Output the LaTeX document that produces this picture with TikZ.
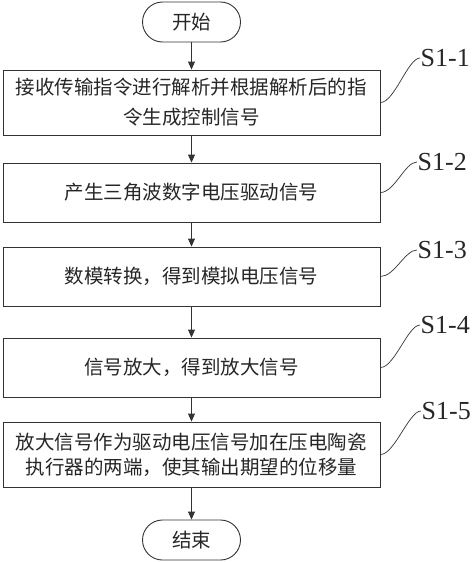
\documentclass[tikz,border=0pt]{standalone}
\usepackage{fontspec}
\newfontfamily\cjk{Noto Sans CJK SC}
\newfontfamily\labfont{Liberation Serif}
\usetikzlibrary{positioning, arrows.meta}

\begin{document}
\begin{tikzpicture}[x=1pt, y=-1pt,
    stepbox/.style={draw=black!80, line width=0.9pt, rectangle, minimum width=377pt, minimum height=59pt, text width=362pt, align=center, inner sep=0pt, text=black!85, font=\cjk\fontsize{19.5}{27}\selectfont},
    term/.style={draw=black!80, line width=0.9pt, rounded corners=20pt, minimum width=98pt, minimum height=40pt, text=black!85, font=\cjk\fontsize{19.5}{24}\selectfont},
    steplabel/.style={anchor=west, inner sep=0.5pt, text=black!85, font=\labfont\fontsize{26}{30}\selectfont},
    flow/.style={draw=black!80, line width=0.9pt, -{Triangle[length=8pt,width=7pt]}},
    lead/.style={draw=black!80, line width=0.7pt}]
\useasboundingbox (0,0) rectangle (474,562);
\node[term] (start) at (191.5,22) {开始};
\node[stepbox, minimum height=65pt, font=\cjk\fontsize{19.5}{30}\selectfont] (s1) at (191.5,102.5) {接收传输指令进行解析并根据解析后的指\\令生成控制信号};
\node[stepbox] (s2) at (191.5,192.5) {产生三角波数字电压驱动信号};
\node[stepbox] (s3) at (191.5,276.5) {数模转换，得到模拟电压信号};
\node[stepbox] (s4) at (191.5,367.5) {信号放大，得到放大信号};
\node[stepbox, minimum height=65pt, font=\cjk\fontsize{19.5}{25}\selectfont] (s5) at (191.5,454.5) {放大信号作为驱动电压信号加在压电陶瓷\\执行器的两端，使其输出期望的位移量};
\node[term] (stop) at (191.5,540) {结束};
% step labels
\node[steplabel] (l1) at (420,58) {S1-1};
\node[steplabel] (l2) at (417,162) {S1-2};
\node[steplabel] (l3) at (417,250) {S1-3};
\node[steplabel] (l4) at (420,325) {S1-4};
\node[steplabel] (l5) at (421,411) {S1-5};
\foreach \a/\b in {start/s1, s1/s2, s2/s3, s3/s4, s4/s5, s5/stop}
    \draw[flow] (\a) -- (\b);
\foreach \i in {1,...,5}
    \draw[lead] (s\i.east) .. controls +(14,0) and +(-12,0) .. (l\i.west);
\end{tikzpicture}
\end{document}
